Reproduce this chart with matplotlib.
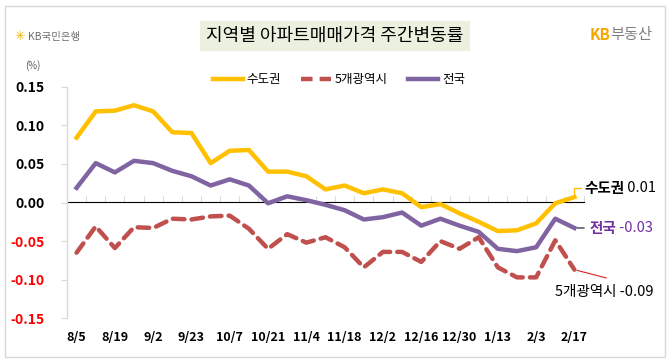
import matplotlib
matplotlib.use("Agg")
import matplotlib.pyplot as plt
from matplotlib.lines import Line2D
from matplotlib.patches import Rectangle
from matplotlib.text import Annotation
import numpy as np

plt.rcParams['font.family'] = ['Noto Sans CJK KR', 'DejaVu Sans']

dates = ["8/5", "8/12", "8/19", "8/26", "9/2", "9/9", "9/23", "9/30", "10/7", "10/14",
         "10/21", "10/28", "11/4", "11/11", "11/18", "11/25", "12/2", "12/9", "12/16",
         "12/23", "12/30", "1/6", "1/13", "1/20", "2/3", "2/10", "2/17"]
sudo = [0.084, 0.118, 0.119, 0.126, 0.118, 0.091, 0.090, 0.051, 0.067, 0.068,
        0.040, 0.040, 0.034, 0.017, 0.022, 0.012, 0.017, 0.012, -0.006,
        -0.002, -0.014, -0.025, -0.037, -0.036, -0.027, -0.001, 0.007]
metro5 = [-0.065, -0.031, -0.059, -0.032, -0.033, -0.021, -0.022, -0.018, -0.017, -0.034,
          -0.060, -0.041, -0.052, -0.045, -0.058, -0.084, -0.064, -0.064, -0.077,
          -0.050, -0.060, -0.045, -0.084, -0.097, -0.097, -0.049, -0.087]
nation = [0.019, 0.051, 0.039, 0.054, 0.051, 0.041, 0.034, 0.022, 0.030, 0.022,
          -0.001, 0.008, 0.003, -0.003, -0.010, -0.022, -0.019, -0.013, -0.030,
          -0.021, -0.030, -0.038, -0.060, -0.063, -0.058, -0.021, -0.033]
names = ["수도권", "5개광역시", "전국"]
yticks = [0.15, 0.10, 0.05, 0.00, -0.05, -0.10, -0.15]

C_Y = "#FFC000"
C_R = "#C0504D"
C_P = "#8064A2"

fig = plt.figure(figsize=(6.7, 3.61), dpi=100)
fig.patch.set_facecolor("white")
ax = fig.add_axes([67/670, 1-318.3/361, (584-67)/670, (318.3-86.7)/361])

x = np.arange(len(dates))
ax.plot(x, sudo, color=C_Y, lw=3.2, solid_joinstyle="round", zorder=3)
ax.plot(x, metro5, color=C_R, lw=3.2, ls=(0, (2.6, 1.6)), dash_capstyle="round", zorder=3)
ax.plot(x, nation, color=C_P, lw=3.2, solid_joinstyle="round", zorder=4)

ax.set_xlim(-0.5, len(dates) - 0.5)
ax.set_ylim(-0.15, 0.15)

for s in ["top", "right", "bottom"]:
    ax.spines[s].set_visible(False)
ax.spines["left"].set_color("#D9D9D9")
ax.spines["left"].set_linewidth(1)

ax.set_yticks(yticks)
ax.set_yticklabels([f"{v:.2f}" for v in yticks], fontsize=10, fontweight="bold")
for lbl, v in zip(ax.get_yticklabels(), yticks):
    lbl.set_color("#FF0000" if v < 0 else "black")
ax.tick_params(axis="y", length=4, color="#D9D9D9", pad=12)

ax.set_xticks(x[::2])
ax.set_xticklabels(dates[::2], fontsize=9, fontweight="bold")
ax.tick_params(axis="x", length=0, pad=9)

sec = ax.secondary_xaxis(0.5)
sec.set_xticks(np.arange(-0.5, len(dates), 1.0))
sec.set_xticklabels([])
sec.tick_params(axis="x", length=4, color="#D9D9D9", direction="out",
                labelbottom=False, labeltop=False)
sec.spines["bottom"].set_color("#D9D9D9")
sec.spines["bottom"].set_linewidth(1)

fig.text(33/670, 1-66/361, "(%)", fontsize=7, color="#595959", ha="center", va="center")

handles = [Line2D([], [], color=C_Y, lw=3.2),
           Line2D([], [], color=C_R, lw=3.2, ls=(0, (2.6, 1.6))),
           Line2D([], [], color=C_P, lw=3.2)]
fig.legend(handles, names, loc="center", bbox_to_anchor=(339/670, 1-80/361), ncol=3,
           frameon=False, fontsize=9, handlelength=2.4, handletextpad=0.3, columnspacing=1.6)

# end labels
t1 = ax.annotate("수도권", xy=(x[-1], sudo[-1]), xytext=(7, 6.5), textcoords="offset points",
                 fontsize=10.5, fontweight="bold", color="black", ha="left", va="center",
                 arrowprops=dict(arrowstyle="-", color=C_Y, lw=1, shrinkA=0, shrinkB=1,
                                 connectionstyle="angle,angleA=0,angleB=90,rad=0"))
ax.annotate(" 0.01", xy=(1, 0.5), xycoords=t1, fontsize=10.5, color="black",
            ha="left", va="center")
t2 = ax.annotate("전국", xy=(x[-1], nation[-1]), xytext=(11, 0), textcoords="offset points",
                 fontsize=10.5, fontweight="bold", color="#7030A0", ha="left", va="center",
                 arrowprops=dict(arrowstyle="-", color="#404040", lw=1, shrinkA=2, shrinkB=2))
ax.annotate(" -0.03", xy=(1, 0.5), xycoords=t2, fontsize=10.5, color="#7030A0",
            ha="left", va="center")
ax.annotate("5개광역시 -0.09", xy=(x[-1], metro5[-1]), xytext=(-14, -16), textcoords="offset points",
            fontsize=10.5, color="black", ha="left", va="center")
ax.annotate("", xy=(x[-1], metro5[-1]), xytext=(23, -6), textcoords="offset points",
            arrowprops=dict(arrowstyle="-", color="#E02020", lw=0.8, shrinkA=0, shrinkB=2))

# title
fig.text(335/670, 1-36/361, "지역별 아파트매매가격 주간변동률", fontsize=13, ha="center", va="center",
         color="black", fontweight="medium",
         bbox=dict(boxstyle="square,pad=0.35", fc="#EBF1DE", ec="none"))

# logos
fig.text(20/670, 1-37/361, "✳", fontsize=9, color="#F5B400", ha="center", va="center",
         family=["DejaVu Sans"])
fig.text(28/670, 1-37/361, "KB국민은행", fontsize=7.5, color="#6E6E6E", ha="left", va="center")
kb = fig.text(590/670, 1-35/361, "KB", fontsize=11, color="#F5A800", ha="left", va="center",
              fontweight="bold")
fig.add_artist(Annotation("부동산", xy=(1, 0.5), xycoords=kb, xytext=(-0.5, 0),
                          textcoords="offset points", fontsize=11, color="#808080",
                          ha="left", va="center"))

# outer frame
fig.patches.append(Rectangle((5/670, 4/361), 660/670, 351/361, transform=fig.transFigure,
                             fill=False, ec="#D9D9D9", lw=1))

fig.savefig("out.png", dpi=100)
